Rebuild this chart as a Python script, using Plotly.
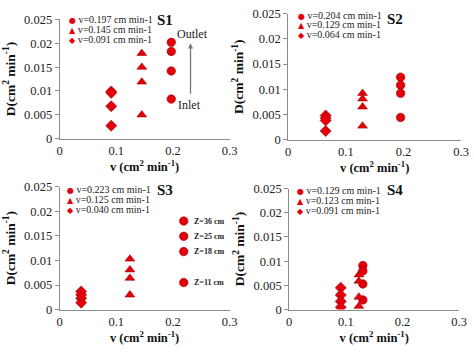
import plotly.graph_objects as go

# ---- data ----
s1_circle_x = [0.197, 0.197, 0.197, 0.197]
s1_circle_y = [0.0202, 0.0183, 0.0142, 0.0083]
s1_tri_x = [0.145, 0.145, 0.145, 0.145]
s1_tri_y = [0.0179, 0.0150, 0.0119, 0.0050]
s1_dia_x = [0.091, 0.091, 0.091, 0.091]
s1_dia_y = [0.0099, 0.0096, 0.0068, 0.0027]

s2_circle_x = [0.195, 0.195, 0.195, 0.195]
s2_circle_y = [0.0124, 0.0108, 0.0092, 0.0044]
s2_tri_x = [0.129, 0.129, 0.129, 0.129]
s2_tri_y = [0.0092, 0.0081, 0.0065, 0.0027]
s2_dia_x = [0.065, 0.065, 0.065, 0.065]
s2_dia_y = [0.0048, 0.0043, 0.0038, 0.0017]

s3_circle_x = [0.219, 0.219, 0.219, 0.219]
s3_circle_y = [0.0180, 0.0149, 0.0118, 0.0055]
s3_tri_x = [0.124, 0.124, 0.124, 0.124]
s3_tri_y = [0.0103, 0.0081, 0.0064, 0.0030]
s3_dia_x = [0.038, 0.038, 0.038, 0.038]
s3_dia_y = [0.0037, 0.0030, 0.0023, 0.0014]
s3_z_labels = ["Z=36 cm", "Z=25 cm", "Z=18 cm", "Z=11 cm"]

s4_circle_x = [0.130, 0.130, 0.130, 0.130]
s4_circle_y = [0.0091, 0.0080, 0.0053, 0.0020]
s4_tri_x = [0.123, 0.123, 0.123, 0.123]
s4_tri_y = [0.0072, 0.0059, 0.0026, 0.0007]
s4_dia_x = [0.091, 0.091, 0.091, 0.091]
s4_dia_y = [0.0045, 0.0030, 0.0017, 0.0005]

legend_labels = {
    "S1": ["v=0.197 cm min-1", "v=0.145 cm min-1", "v=0.091 cm min-1"],
    "S2": ["v=0.204 cm min-1", "v=0.129 cm min-1", "v=0.064 cm min-1"],
    "S3": ["v=0.223 cm min-1", "v=0.125 cm min-1", "v=0.040 cm min-1"],
    "S4": ["v=0.129 cm min-1", "v=0.123 cm min-1", "v=0.091 cm min-1"],
}
x_tickvals = [0, 0.1, 0.2, 0.3]
y_tickvals = [0, 0.005, 0.01, 0.015, 0.02, 0.025]

W, H = 474, 356
RED = "#e3000b"
EDGE = "#a30000"
SERIF = "Liberation Serif, Times New Roman, serif"

panels = [
    ("S1", "", (58, 232), (13, 137),
     (s1_circle_x, s1_circle_y, s1_tri_x, s1_tri_y, s1_dia_x, s1_dia_y)),
    ("S2", "2", (292, 469), (7, 138),
     (s2_circle_x, s2_circle_y, s2_tri_x, s2_tri_y, s2_dia_x, s2_dia_y)),
    ("S3", "3", (58, 232), (187, 315),
     (s3_circle_x, s3_circle_y, s3_tri_x, s3_tri_y, s3_dia_x, s3_dia_y)),
    ("S4", "4", (293, 467), (189, 315),
     (s4_circle_x, s4_circle_y, s4_tri_x, s4_tri_y, s4_dia_x, s4_dia_y)),
]

fig = go.Figure()
layout = dict(
    width=W, height=H, margin=dict(l=0, r=0, t=0, b=0),
    paper_bgcolor="white", plot_bgcolor="white", showlegend=False,
    font=dict(family=SERIF, color="#1a1a1a"),
)
annotations = []

title_pos = {"S1": (166, 14), "S2": (401, 13), "S3": (166, 191), "S4": (401, 191)}
legend_pos = {"S1": (66, 13), "S2": (300, 8.5), "S3": (63, 190), "S4": (299, 191)}
row_gap = 10.2
glyphs = ["●", "▲", "◆"]

for name, suf, (x0, x1), (yt, yb), d in panels:
    xa = "xaxis" + suf
    ya = "yaxis" + suf
    xref = "x" + suf
    yref = "y" + suf
    layout[xa] = dict(
        domain=[x0 / W, x1 / W], range=[0, 0.3], anchor=yref,
        tickvals=x_tickvals, ticktext=[str(v) if v else "0" for v in x_tickvals],
        showgrid=False, zeroline=False, showline=True, linecolor="#8c8c8c",
        linewidth=1, ticks="", tickfont=dict(size=12.5, family=SERIF, color="#222"),
        title=dict(text="<b>v (cm<sup>2</sup> min<sup>-1</sup>)</b>",
                   font=dict(size=12.5, family=SERIF, color="#111"), standoff=3),
    )
    layout[ya] = dict(
        domain=[1 - yb / H, 1 - yt / H], range=[0, 0.025], anchor=xref,
        tickvals=y_tickvals,
        showgrid=False, zeroline=False, showline=True, linecolor="#8c8c8c",
        linewidth=1, ticks="outside", ticklen=4, tickcolor="#8c8c8c",
        tickfont=dict(size=12.5, family=SERIF, color="#222"),
        title=dict(text="<b>D(cm<sup>2</sup> min<sup>-1</sup>)</b>",
                   font=dict(size=13.5, family=SERIF, color="#111"), standoff=5),
    )
    cx, cy, tx, ty, dx, dy = d
    for xs, ys, sym, sz in [(cx, cy, "circle", 8.5), (tx, ty, "triangle-up", 8.5),
                            (dx, dy, "diamond", 8.5)]:
        fig.add_trace(go.Scatter(
            x=xs, y=ys, mode="markers", xaxis=xref, yaxis=yref,
            marker=dict(symbol=sym, size=sz, color=RED,
                        line=dict(color=EDGE, width=0.6)),
            hoverinfo="x+y",
        ))
    tx_, ty_ = title_pos[name]
    annotations.append(dict(
        x=tx_ / W, y=1 - ty_ / H, xref="paper", yref="paper", showarrow=False,
        text="<b>%s</b>" % name, font=dict(size=15, family=SERIF, color="#111"),
        xanchor="center", yanchor="middle"))
    lx, ly = legend_pos[name]
    for i, lab in enumerate(legend_labels[name]):
        annotations.append(dict(
            x=lx / W, y=1 - (ly + i * row_gap) / H, xref="paper", yref="paper",
            showarrow=False, xanchor="left", yanchor="middle",
            text='<span style="color:%s;font-family:DejaVu Sans;font-size:8px">%s</span> %s'
                 % (RED, glyphs[i], lab),
            font=dict(size=10, family=SERIF, color="#222")))

# S1 arrow and labels
annotations.append(dict(x=0.231, y=0.0200, ax=0.231, ay=0.0091, xref="x", yref="y",
                        axref="x", ayref="y", showarrow=True, text="",
                        arrowhead=2, arrowsize=0.8, arrowwidth=1.3, arrowcolor="#7a7a7a"))
annotations.append(dict(x=0.203, y=0.0219, xref="x", yref="y", showarrow=False,
                        text="Outlet", xanchor="left", yanchor="middle",
                        font=dict(size=12, family=SERIF, color="#222")))
annotations.append(dict(x=0.206, y=0.0071, xref="x", yref="y", showarrow=False,
                        text="Inlet", xanchor="left", yanchor="middle",
                        font=dict(size=12, family=SERIF, color="#222")))
for yv, lab in zip(s3_circle_y, s3_z_labels):
    annotations.append(dict(x=0.234, y=yv, xref="x3", yref="y3", showarrow=False,
                            text="<b>%s</b>" % lab, xanchor="left", yanchor="middle",
                            font=dict(size=8, family=SERIF, color="#222")))

layout["annotations"] = annotations
fig.update_layout(**layout)
fig.write_html("out.html", config={"displayModeBar": False},
               post_script="document.body.style.margin='0';document.body.style.overflow='hidden';")
